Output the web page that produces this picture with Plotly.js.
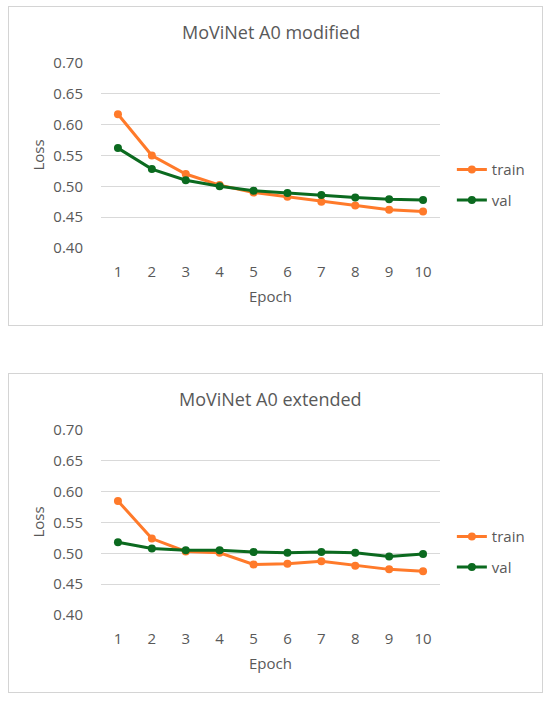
<!DOCTYPE html>
<html>
<head>
<meta charset="utf-8">
<script src="https://cdn.plot.ly/plotly-3.0.1.min.js"></script>
<style>
  html, body { margin: 0; padding: 0; background: #ffffff; width: 550px; height: 704px; overflow: hidden; }
  .box { position: absolute; left: 8px; width: 535px; border: 1px solid #d4d4d4; box-sizing: border-box; background: #fff; }
  #box1 { top: 6px; height: 320px; }
  #box2 { top: 373px; height: 320px; }
  .plot { width: 533px; height: 318px; }
</style>
</head>
<body>
<div class="box" id="box1"><div class="plot" id="chart1"></div></div>
<div class="box" id="box2"><div class="plot" id="chart2"></div></div>
<script>
// ---- data ----
const epochs = [1, 2, 3, 4, 5, 6, 7, 8, 9, 10];
const modifiedTrain = [0.617, 0.550, 0.520, 0.502, 0.490, 0.483, 0.475, 0.469, 0.462, 0.459];
const modifiedVal   = [0.562, 0.528, 0.510, 0.500, 0.493, 0.489, 0.486, 0.482, 0.479, 0.478];
const extendedTrain = [0.585, 0.524, 0.503, 0.501, 0.482, 0.483, 0.487, 0.480, 0.474, 0.471];
const extendedVal   = [0.518, 0.508, 0.505, 0.505, 0.502, 0.501, 0.502, 0.501, 0.495, 0.499];
const yTickVals = [0.40, 0.45, 0.50, 0.55, 0.60, 0.65, 0.70];
const seriesNames = ['train', 'val'];
const titles = ['MoViNet A0 modified', 'MoViNet A0 extended'];
const xTitle = 'Epoch';
const yTitle = 'Loss';

// ---- styling ----
const FONT = '"Open Sans", "Noto Sans", sans-serif';
const GREY = '#595959';
const ORANGE = '#FF7A2A';
const GREEN = '#0B6A1F';

function makeTrace(y, name, color, group) {
  return {
    x: epochs, y: y, name: name, type: 'scatter', mode: 'lines+markers',
    legendgroup: group,
    line: { color: color, width: 3 },
    marker: { color: color, size: 8, symbol: 'circle' },
    hoverinfo: 'skip'
  };
}

function makeLayout(title) {
  return {
    width: 533, height: 318,
    margin: { l: 92, r: 102, t: 56, b: 77, pad: 0 },
    paper_bgcolor: '#ffffff', plot_bgcolor: '#ffffff',
    font: { family: FONT, color: GREY, size: 15 },
    showlegend: true,
    legend: {
      x: 1.035, xanchor: 'left', y: 0.342, yanchor: 'middle',
      font: { family: FONT, size: 15, color: GREY },
      traceorder: 'grouped', tracegroupgap: 8,
      bgcolor: 'rgba(0,0,0,0)', borderwidth: 0
    },
    xaxis: {
      range: [0.5, 10.5], tickvals: epochs, ticktext: epochs.map(String),
      showgrid: false, zeroline: false, showline: false,
      ticks: 'outside', ticklen: 10, tickcolor: 'rgba(0,0,0,0)',
      tickfont: { family: FONT, size: 15, color: GREY },
      fixedrange: true
    },
    yaxis: {
      range: [0.40, 0.70], tickvals: yTickVals, tickformat: '.2f',
      showgrid: true, gridcolor: '#d9d9d9', gridwidth: 1,
      zeroline: false, showline: false,
      ticks: 'outside', ticklen: 14, tickcolor: 'rgba(0,0,0,0)',
      tickfont: { family: FONT, size: 15, color: GREY },
      fixedrange: true
    },
    annotations: [
      { text: title, xref: 'paper', yref: 'paper', x: 0.5, y: 1, yshift: 31, xanchor: 'center', yanchor: 'middle',
        showarrow: false, font: { family: FONT, size: 18, color: GREY } },
      { text: xTitle, xref: 'paper', yref: 'paper', x: 0.5, y: 0, yshift: -48, xanchor: 'center', yanchor: 'middle',
        showarrow: false, font: { family: FONT, size: 15, color: GREY } },
      { text: yTitle, xref: 'paper', yref: 'paper', x: 0, y: 0.5, xshift: -64, xanchor: 'center', yanchor: 'middle',
        textangle: -90, showarrow: false, font: { family: FONT, size: 15, color: GREY } }
    ]
  };
}

const config = { staticPlot: true, displayModeBar: false };

Plotly.newPlot('chart1', [
  makeTrace(modifiedTrain, seriesNames[0], ORANGE, 'a'),
  makeTrace(modifiedVal, seriesNames[1], GREEN, 'b')
], makeLayout(titles[0]), config);

Plotly.newPlot('chart2', [
  makeTrace(extendedTrain, seriesNames[0], ORANGE, 'a'),
  makeTrace(extendedVal, seriesNames[1], GREEN, 'b')
], makeLayout(titles[1]), config);
</script>
</body>
</html>
